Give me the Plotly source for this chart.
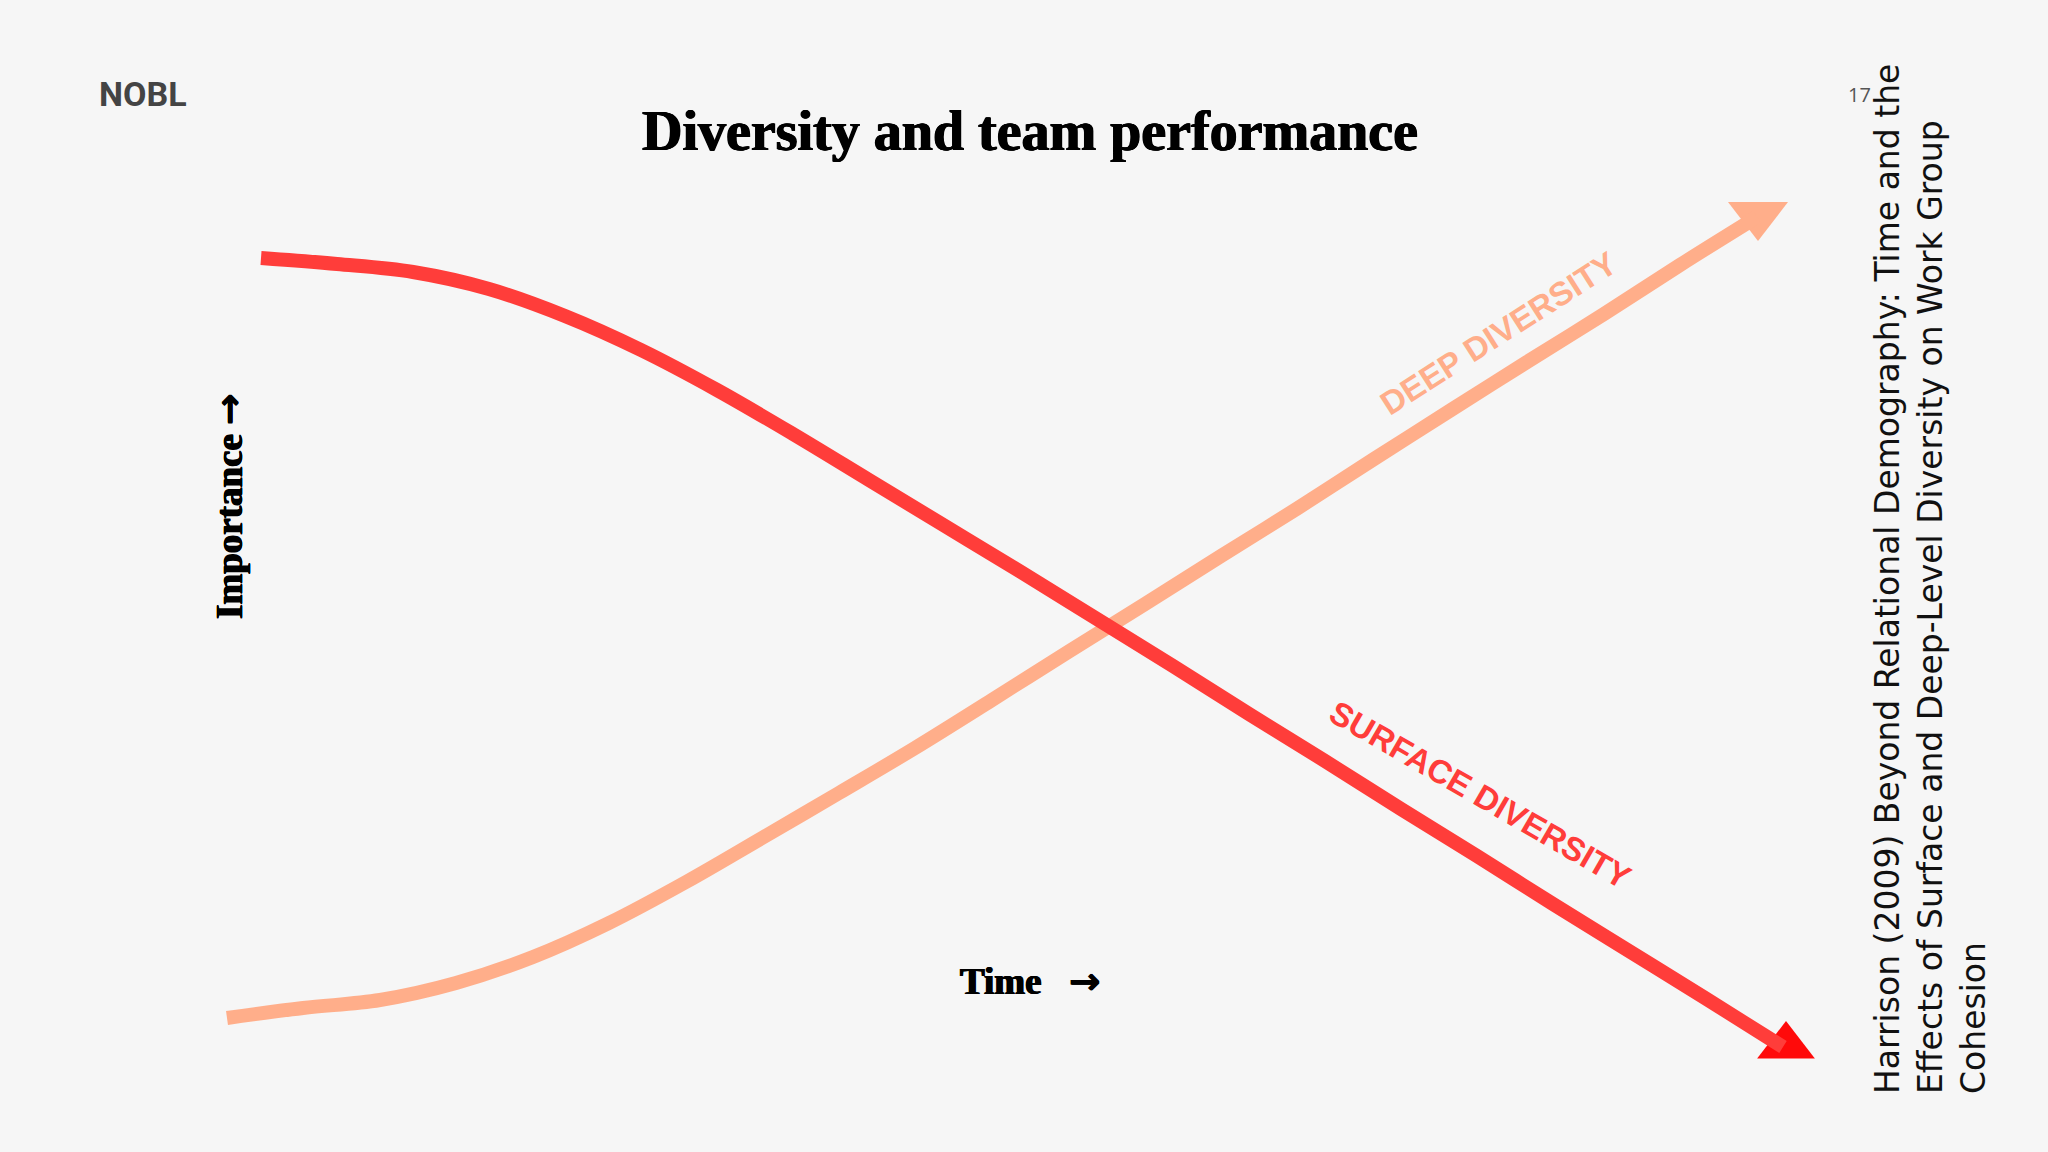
import plotly.graph_objects as go

# Curve values (Time on x, Importance on y, in the chart's own pixel-space units; y grows downward)
surface_time = [261, 337, 413, 489, 565, 641, 717, 793, 869, 945, 1021,
                1097, 1173, 1249, 1325, 1401, 1477, 1553, 1629, 1705, 1783]
surface_importance = [258, 264, 272, 289, 316, 350, 390, 434, 480, 526, 572,
                      619, 666, 714, 761, 809, 856, 904, 951, 998, 1047]

deep_time = [227, 303, 380, 456, 533, 609, 686, 762, 839, 915, 992,
             1068, 1145, 1221, 1298, 1374, 1451, 1527, 1604, 1680, 1757]
deep_importance = [1018, 1008, 1000, 983, 957, 923, 882, 838, 793, 748, 700,
                   652, 604, 556, 508, 459, 410, 362, 314, 265, 217]

series_names = ["SURFACE DIVERSITY", "DEEP DIVERSITY"]
title_text = "Diversity and team performance"
x_label = "Time&nbsp;&nbsp;&nbsp;<span style='font-family:DejaVu Sans'>→</span>"
y_label = "Importance <span style='font-family:DejaVu Sans'>→</span>"
citation = ("Harrison (2009) Beyond Relational Demography: Time and the<br>"
            "Effects of Surface and Deep-Level Diversity on Work Group<br>"
            "Cohesion")
page_number = "17"
logo = "NOBL"

RED = "#FF3D3A"
RED_HEAD = "#FF0A0A"
PEACH = "#FFAE8A"
BG = "#F6F6F6"
HEAVY = "0.7px 0 0 #000, -0.7px 0 0 #000, 0 0.4px 0 #000"

fig = go.Figure()

# arrowheads (drawn first so line ends sit on top)
fig.add_trace(go.Scatter(x=[surface_time[-1] + 3], y=[surface_importance[-1] - 1], mode="markers",
                         marker=dict(symbol="triangle-up", size=50, color=RED_HEAD, line=dict(width=0)),
                         hoverinfo="skip", showlegend=False))
fig.add_trace(go.Scatter(x=[deep_time[-1] + 1], y=[deep_importance[-1] - 2], mode="markers",
                         marker=dict(symbol="triangle-down", size=52, color=PEACH, line=dict(width=0)),
                         hoverinfo="skip", showlegend=False))

fig.add_trace(go.Scatter(x=deep_time, y=deep_importance, mode="lines", name=series_names[1],
                         line=dict(color=PEACH, width=14, shape="spline", smoothing=1),
                         showlegend=False))
fig.add_trace(go.Scatter(x=surface_time, y=surface_importance, mode="lines", name=series_names[0],
                         line=dict(color=RED, width=14, shape="spline", smoothing=1),
                         showlegend=False))

ann = []
ann.append(dict(x=1030, y=131, text=title_text, showarrow=False, xanchor="center", yanchor="middle",
                font=dict(family="Liberation Serif", size=56, color="#000000", weight="bold",
                          shadow=HEAVY)))
ann.append(dict(x=97, y=94, text=logo, showarrow=False, xanchor="left", yanchor="middle",
                font=dict(family="Roboto", size=34, color="#444444", weight="bold")))
ann.append(dict(x=1859, y=94, text=page_number, showarrow=False, xanchor="center", yanchor="middle",
                font=dict(family="Open Sans", size=20, color="#555555")))
ann.append(dict(x=1930, y=1096, text=citation, showarrow=False, textangle=-90, align="left",
                xanchor="center", yanchor="bottom",
                font=dict(family="DejaVu Sans", size=33, color="#111111")))
ann.append(dict(x=229, y=507, text=y_label, showarrow=False, textangle=-90,
                xanchor="center", yanchor="middle",
                font=dict(family="Liberation Serif", size=37, color="#000000", weight="bold",
                          shadow=HEAVY)))
ann.append(dict(x=1030, y=981, text=x_label, showarrow=False,
                xanchor="center", yanchor="middle",
                font=dict(family="Liberation Serif", size=37, color="#000000", weight="bold",
                          shadow=HEAVY)))
ann.append(dict(x=1498, y=333, text=series_names[1], showarrow=False, textangle=-32.5,
                xanchor="center", yanchor="middle",
                font=dict(family="Liberation Sans", size=33, color=PEACH, weight="bold")))
ann.append(dict(x=1480, y=794, text=series_names[0], showarrow=False, textangle=30,
                xanchor="center", yanchor="middle",
                font=dict(family="Liberation Sans", size=33, color=RED, weight="bold")))

fig.update_layout(
    width=2048, height=1152,
    margin=dict(l=0, r=0, t=0, b=0),
    paper_bgcolor=BG, plot_bgcolor=BG,
    xaxis=dict(range=[0, 2048], visible=False, fixedrange=True),
    yaxis=dict(range=[1152, 0], visible=False, fixedrange=True),
    annotations=ann,
    showlegend=False,
)

fig.write_html("out.html", config={"displayModeBar": False},
               post_script="document.body.style.margin='0';document.body.style.background='#F6F6F6';")
